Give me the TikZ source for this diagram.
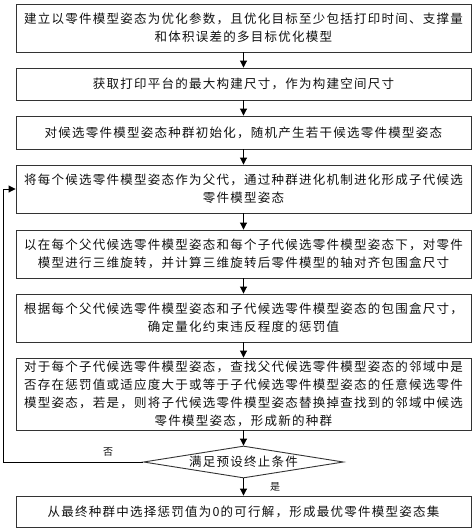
\documentclass[tikz,border=0pt]{standalone}
\usepackage{fontspec}
\newfontfamily\cjk[LetterSpace=10]{Noto Sans CJK SC}
\usetikzlibrary{arrows.meta,shapes.geometric}
\definecolor{linec}{HTML}{333333}
\definecolor{textc}{HTML}{111111}
\tikzset{
  box/.style={draw=linec, line width=0.9pt, rectangle, inner sep=0pt,
    minimum width=455pt, align=center, text=textc,
    font=\cjk\fontsize{12.5}{18}\selectfont},
  dec/.style={draw=linec, line width=0.9pt, diamond, aspect=6.25, inner sep=0pt,
    minimum width=200pt, minimum height=32pt, align=center, text=textc,
    font=\cjk\fontsize{12.5}{18}\selectfont},
  lbl/.style={inner sep=0pt, text=textc, font=\cjk\fontsize{10}{12}\selectfont},
  arr/.style={draw=black, line width=0.9pt, -{Triangle[length=7pt,width=7pt]}},
}
\begin{document}
\begin{tikzpicture}[x=1pt,y=-1pt]
\useasboundingbox (0,0) rectangle (474,531);
\node[box, minimum height=48pt] (b1) at (243.5,28) {建立以零件模型姿态为优化参数，且优化目标至少包括打印时间、支撑量\\和体积误差的多目标优化模型};
\node[box, minimum height=32pt] (b2) at (243.5,84) {获取打印平台的最大构建尺寸，作为构建空间尺寸};
\node[box, minimum height=33pt] (b3) at (243.5,132.5) {对候选零件模型姿态种群初始化，随机产生若干候选零件模型姿态};
\node[box, minimum height=48pt] (b4) at (243.5,189) {将每个候选零件模型姿态作为父代，通过种群进化机制进化形成子代候选\\零件模型姿态};
\node[box, minimum height=48pt] (b5) at (243.5,254) {以在每个父代候选零件模型姿态和每个子代候选零件模型姿态下，对零件\\模型进行三维旋转，并计算三维旋转后零件模型的轴对齐包围盒尺寸};
\node[box, minimum height=48pt] (b6) at (243.5,318) {根据每个父代候选零件模型姿态和子代候选零件模型姿态的包围盒尺寸，\\确定量化约束违反程度的惩罚值};
\node[box, minimum height=72pt] (b7) at (243.5,394) {对于每个子代候选零件模型姿态，查找父代候选零件模型姿态的邻域中是\\否存在惩罚值或适应度大于或等于子代候选零件模型姿态的任意候选零件\\模型姿态，若是，则将子代候选零件模型姿态替换掉查找到的邻域中候选\\零件模型姿态，形成新的种群};
\node[dec] (d) at (243.5,462) {满足预设终止条件};
\node[box, minimum height=31pt] (b8) at (243.5,511.5) {从最终种群中选择惩罚值为0的可行解，形成最优零件模型姿态集};
\node[lbl] (no) at (108,452) {否};
\node[lbl] (yes) at (275,487) {是};
\coordinate (fb) at (3.5,462);
\draw[arr] (b1) -- (b2);
\draw[arr] (b2) -- (b3);
\draw[arr] (b3) -- (b4);
\draw[arr] (b4) -- (b5);
\draw[arr] (b5) -- (b6);
\draw[arr] (b6) -- (b7);
\draw[arr] (b7) -- (d);
\draw[arr] (d) -- (b8);
\draw[arr] (d.west) -- (fb) |- (b4.west);
\end{tikzpicture}
\end{document}
